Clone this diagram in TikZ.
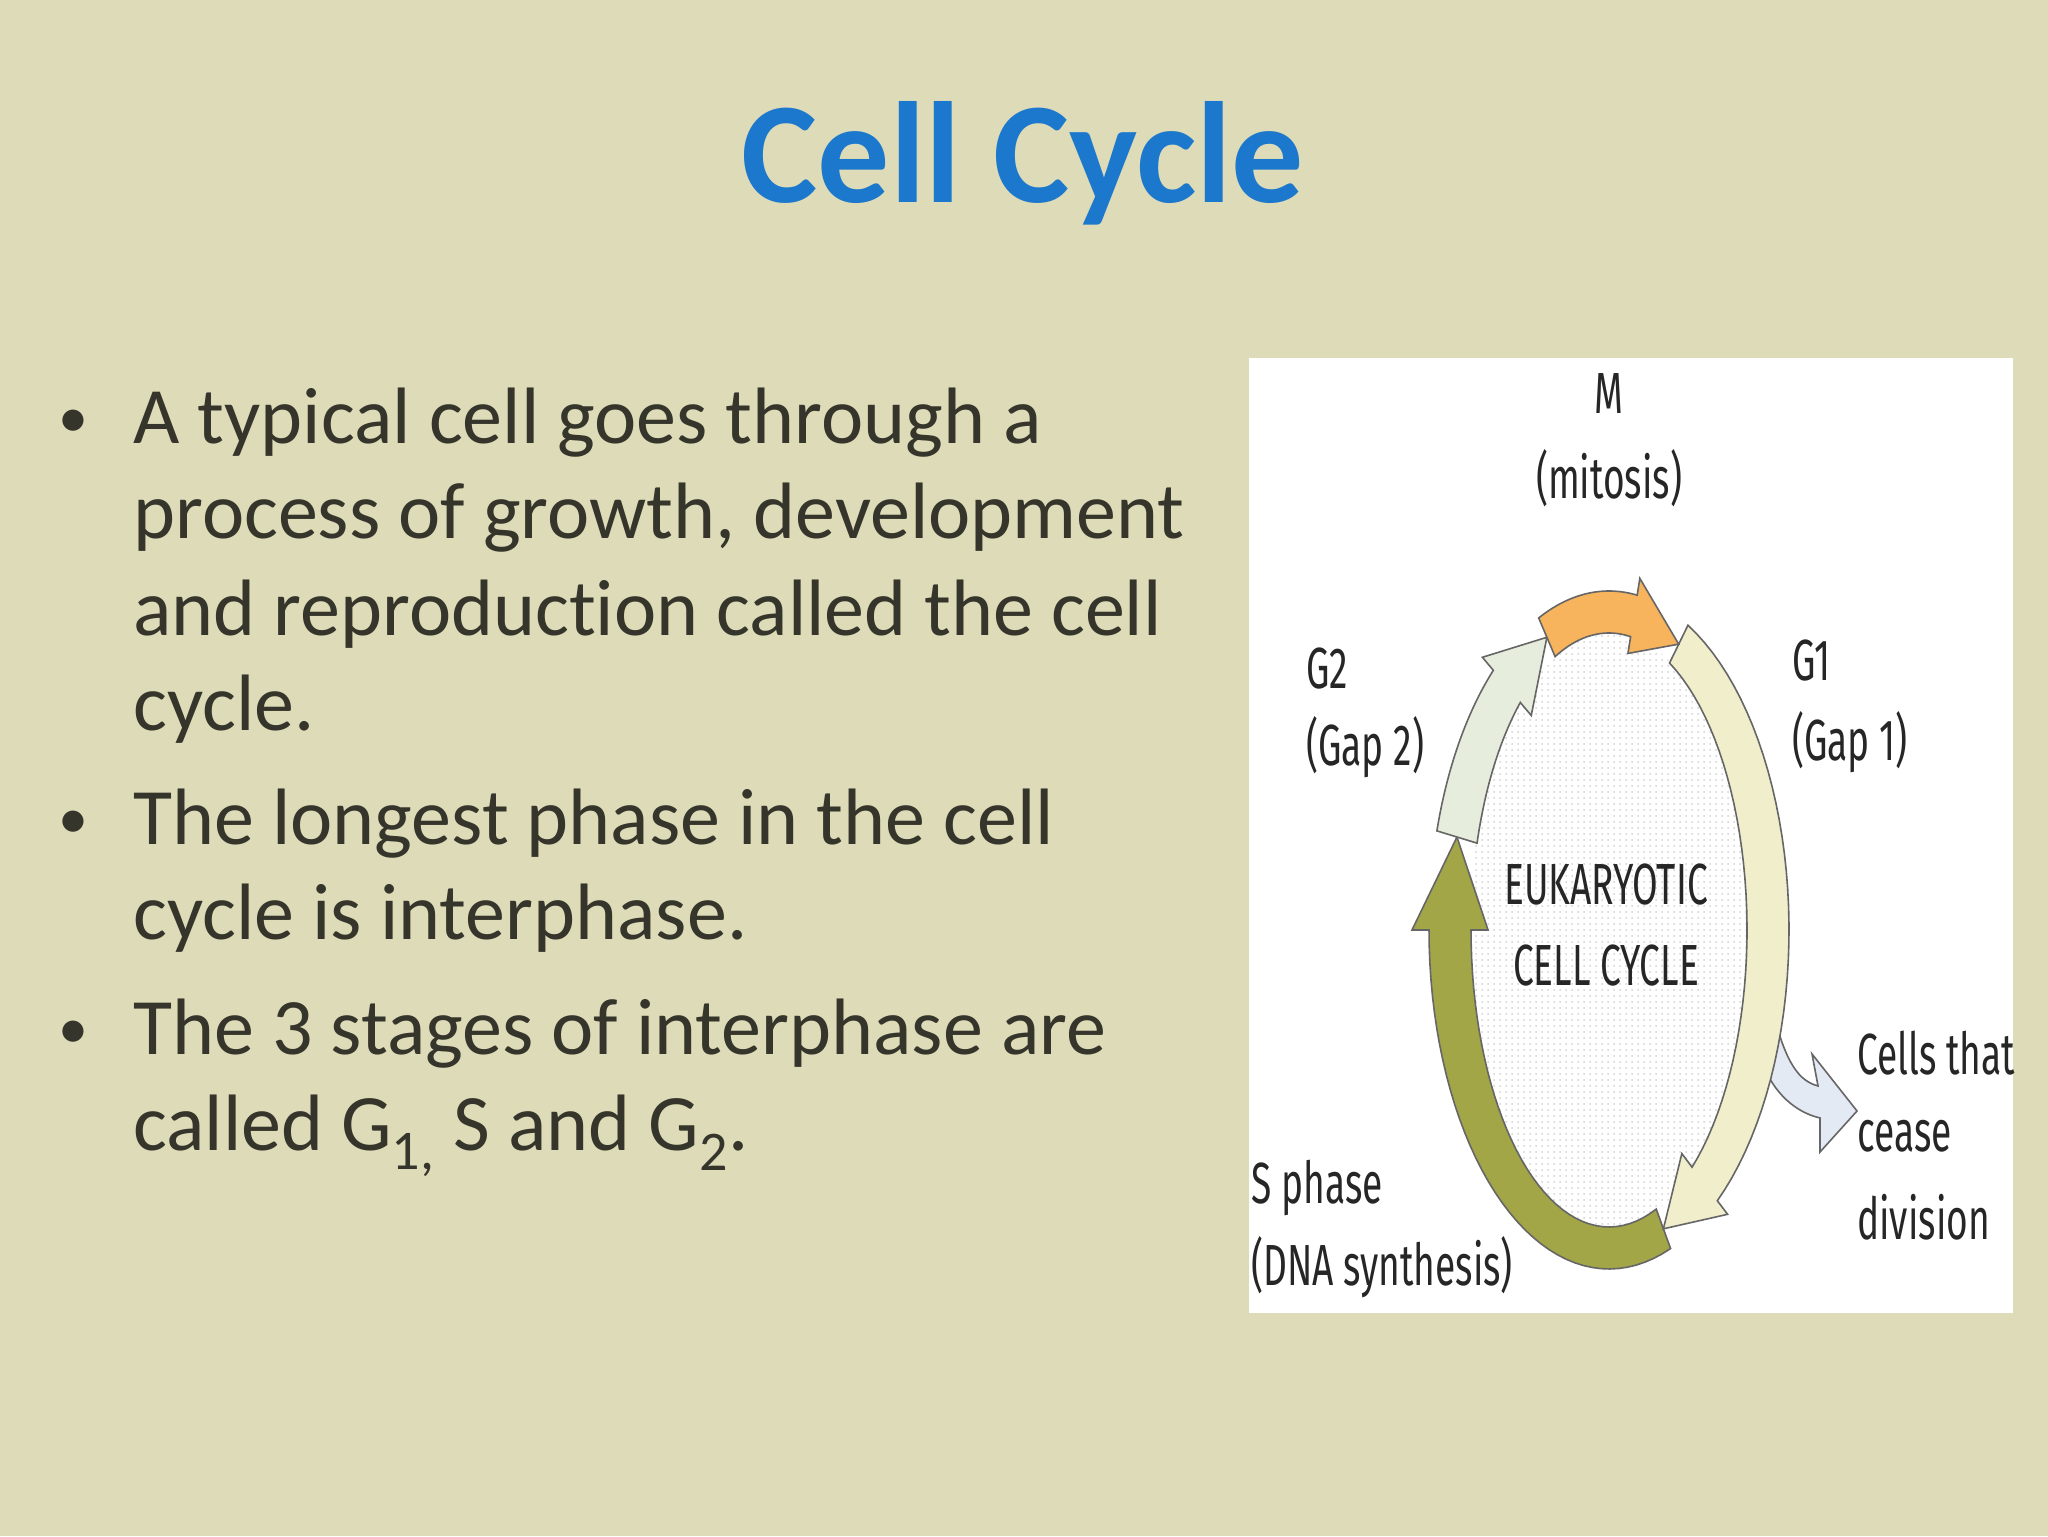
\documentclass[tikz,border=0pt]{standalone}
\usepackage{fontspec}
\setmainfont{Carlito}[Ligatures={NoCommon,NoRare}]
\newfontfamily\lab{Fira Sans}
\usetikzlibrary{patterns}
\definecolor{bg}{HTML}{DEDCB8}
\definecolor{txt}{HTML}{35352B}
\definecolor{ttl}{HTML}{1C78CC}
\definecolor{cM}{HTML}{F7B45C}
\definecolor{cG1}{HTML}{F1EECB}
\definecolor{cS}{HTML}{A2A646}
\definecolor{cG2}{HTML}{E6EDDC}
\definecolor{cX}{HTML}{E4EAF4}
\newcommand{\cx}{1609}
\newcommand{\cy}{606}
\newcommand{\rx}{159}
\newcommand{\ry}{318}
% band arrow: #1 start angle, #2 tip angle (#2 < #1), #3 colour
\newcommand{\bandarrow}[3]{%
  \pgfmathsetmacro{\th}{#2+17}%
  \fill[#3,draw=black!60,line width=0.8pt]
   plot[domain=#1:\th,variable=\t,samples=40] ({\cx+(\rx+21)*cos(\t)},{\cy+(\ry+21)*sin(\t)})
   -- ({\cx+(\rx+38)*cos(\th)},{\cy+(\ry+38)*sin(\th)})
   -- ({\cx+\rx*cos(#2)},{\cy+\ry*sin(#2)})
   -- ({\cx+(\rx-38)*cos(\th)},{\cy+(\ry-38)*sin(\th)})
   -- plot[domain=\th:#1,variable=\t,samples=40] ({\cx+(\rx-21)*cos(\t)},{\cy+(\ry-21)*sin(\t)})
   -- cycle;}
\tikzset{lbl/.style={font=\lab\fontsize{29}{34}\selectfont,text=black!85,xscale=0.64,inner sep=0pt},
  bl/.style={font=\fontsize{40}{47}\selectfont,text=txt,anchor=base west,inner sep=0pt}}
\begin{document}
\begin{tikzpicture}[x=0.5pt,y=0.5pt]
\fill[bg] (0,0) rectangle (2048,1536);
\useasboundingbox (0,0) rectangle (2048,1536);
% title
\node[font=\bfseries\fontsize{72}{80}\selectfont,text=ttl] (title) at (1023,1373) {Cell Cycle};
% bullets
\foreach \y in {1092,691,481}{\node[font=\fontsize{30}{36}\selectfont,text=txt,anchor=base west,inner sep=0pt] at (58,\y+6) {•};}
\node[bl] (b1) at (133,1092) {A typical cell goes through a};
\node[bl] (b2) at (133,997) {process of growth, development};
\node[bl] (b3) at (133,900) {and reproduction called the cell};
\node[bl] (b4) at (133,805) {cycle.};
\node[bl] (b5) at (133,691) {The longest phase in the cell};
\node[bl] (b6) at (133,596) {cycle is interphase.};
\node[bl] (b7) at (133,481) {The 3 stages of interphase are};
\node[bl] (b8) at (133,385) {called G\textsubscript{1,} S and G\textsubscript{2}.};
% diagram panel
\fill[white] (1249,223) rectangle (2013,1178);
\fill[pattern=dots,pattern color=black!18] (\cx,\cy) ellipse [x radius=140,y radius=298];
% cease arrow
\fill[cX,draw=black!60,line width=0.8pt] (1772,528) .. controls (1786,470) and (1800,455) .. (1818,450)
  -- (1812,482) -- (1857,425) -- (1820,384) -- (1820,418)
  .. controls (1790,425) and (1770,450) .. (1762,475) -- cycle;
\bandarrow{-70}{-197}{cS}
\bandarrow{163}{113}{cG2}
\bandarrow{64}{-70}{cG1}
\bandarrow{113}{64}{cM}
% labels
\node[lbl] (m) at (1609,1142) {M};
\node[lbl] (mit) at (1609,1058) {(mitosis)};
\node[lbl,anchor=west] (g2) at (1306,867) {G2};
\node[lbl,anchor=west] (gap2) at (1306,789) {(Gap 2)};
\node[lbl,anchor=west] (g1) at (1792,875) {G1};
\node[lbl,anchor=west] (gap1) at (1792,794) {(Gap 1)};
\node[lbl] (euk) at (1606,651) {EUKARYOTIC};
\node[lbl] (ccy) at (1606,570) {CELL CYCLE};
\node[lbl,anchor=west] (c1) at (1857,483) {Cells that};
\node[lbl,anchor=west] (c2) at (1857,400) {cease};
\node[lbl,anchor=west] (c3) at (1857,319) {division};
\node[lbl,anchor=west] (s1) at (1251,348) {S phase};
\node[lbl,anchor=west] (s2) at (1251,269) {(DNA synthesis)};
\end{tikzpicture}
\end{document}
